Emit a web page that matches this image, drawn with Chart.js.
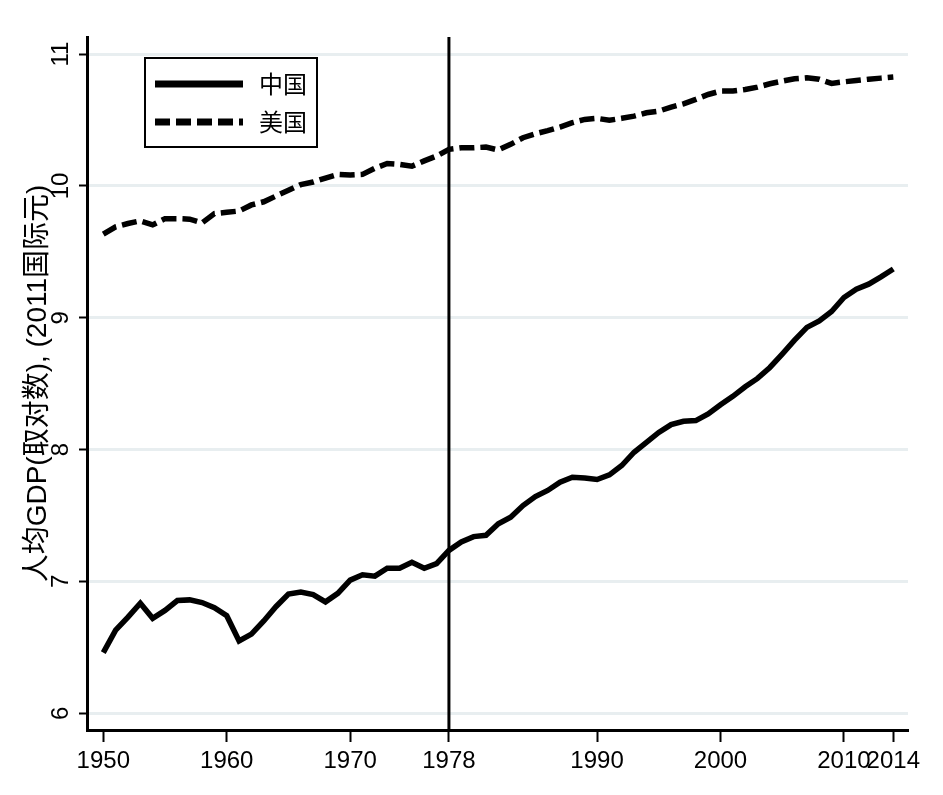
<!DOCTYPE html>
<html>
<head>
<meta charset="utf-8">
<script src="https://cdn.jsdelivr.net/npm/chart.js@4/dist/chart.umd.min.js"></script>
<style>
  body { margin: 0; background: #fff; }
  #wrap { width: 943px; height: 795px; }
</style>
</head>
<body>
<div id="wrap"><canvas id="gdp-chart"></canvas></div>
<script>
const years = [
  1950, 1951, 1952, 1953, 1954, 1955, 1956, 1957, 1958, 1959,
  1960, 1961, 1962, 1963, 1964, 1965, 1966, 1967, 1968, 1969,
  1970, 1971, 1972, 1973, 1974, 1975, 1976, 1977, 1978, 1979,
  1980, 1981, 1982, 1983, 1984, 1985, 1986, 1987, 1988, 1989,
  1990, 1991, 1992, 1993, 1994, 1995, 1996, 1997, 1998, 1999,
  2000, 2001, 2002, 2003, 2004, 2005, 2006, 2007, 2008, 2009,
  2010, 2011, 2012, 2013, 2014,
];

// log GDP per capita, 2011 international dollars
const china = [
  6.46, 6.63, 6.73, 6.835, 6.72, 6.78, 6.855, 6.86, 6.84, 6.80,
  6.74, 6.548, 6.60, 6.70, 6.81, 6.905, 6.92, 6.90, 6.845, 6.91,
  7.01, 7.05, 7.04, 7.10, 7.10, 7.145, 7.10, 7.135, 7.235, 7.30,
  7.34, 7.35, 7.437, 7.487, 7.576, 7.644, 7.69, 7.752, 7.79, 7.785,
  7.773, 7.808, 7.879, 7.98, 8.055, 8.13, 8.19, 8.215, 8.22, 8.27,
  8.34, 8.404, 8.477, 8.54, 8.623, 8.725, 8.83, 8.927, 8.977, 9.048,
  9.154, 9.217, 9.255, 9.31, 9.37,
];

const usa = [
  9.634, 9.69, 9.715, 9.735, 9.705, 9.752, 9.752, 9.748, 9.72, 9.79,
  9.80, 9.81, 9.856, 9.88, 9.924, 9.967, 10.01, 10.03, 10.06, 10.088,
  10.083, 10.088, 10.134, 10.17, 10.164, 10.15, 10.19, 10.227, 10.278, 10.29,
  10.29, 10.295, 10.273, 10.316, 10.366, 10.396, 10.42, 10.447, 10.48, 10.505,
  10.513, 10.498, 10.513, 10.53, 10.555, 10.568, 10.598, 10.623, 10.657, 10.694,
  10.72, 10.72, 10.732, 10.75, 10.775, 10.795, 10.813, 10.82, 10.81, 10.778,
  10.79, 10.80, 10.81, 10.818, 10.826,
];

const xTicks = [1950, 1960, 1970, 1978, 1990, 2000, 2010, 2014];
const yTicks = [6, 7, 8, 9, 10, 11];
const seriesNames = ["中国", "美国"];
const reformYear = 1978;

const tickFont = { family: "'Liberation Sans', Arial, sans-serif", size: 24 };
const cjkFont = "'Liberation Sans', 'Noto Sans CJK SC', sans-serif";

// vertical line at 1978 and boxed legend like the Stata original
const extras = {
  id: "extras",
  afterDatasetsDraw(chart) {
    const ctx = chart.ctx;
    const area = chart.chartArea;
    const x = chart.scales.x.getPixelForValue(reformYear);
    ctx.save();
    ctx.strokeStyle = "#000";
    ctx.lineWidth = 3;
    ctx.beginPath();
    ctx.moveTo(x, area.top);
    ctx.lineTo(x, area.bottom);
    ctx.stroke();

    const bx = area.left + 58;
    const by = area.top + 21;
    ctx.lineWidth = 2;
    ctx.strokeRect(bx, by, 172, 89);
    ctx.font = "24px 'Noto Sans CJK SC', sans-serif";
    ctx.fillStyle = "#000";
    ctx.textBaseline = "middle";
    chart.data.datasets.forEach((ds, i) => {
      const ly = by + 26 + i * 38;
      ctx.lineWidth = 7;
      ctx.setLineDash(ds.borderDash || []);
      ctx.beginPath();
      ctx.moveTo(bx + 10, ly);
      ctx.lineTo(bx + 98, ly);
      ctx.stroke();
      ctx.setLineDash([]);
      ctx.fillText(ds.label, bx + 114, ly);
    });
    ctx.restore();
  },
};

new Chart(document.getElementById("gdp-chart"), {
  type: "line",
  data: {
    datasets: [
      {
        label: seriesNames[0],
        data: years.map((y, i) => ({ x: y, y: china[i] })),
        borderColor: "#000",
        borderWidth: 5.5,
        pointRadius: 0,
        tension: 0,
        fill: false,
      },
      {
        label: seriesNames[1],
        data: years.map((y, i) => ({ x: y, y: usa[i] })),
        borderColor: "#000",
        borderWidth: 5.5,
        borderDash: [15, 6],
        pointRadius: 0,
        tension: 0,
        fill: false,
      },
    ],
  },
  options: {
    responsive: true,
    maintainAspectRatio: false,
    animation: false,
    layout: { padding: { top: 37, right: 35, left: 0, bottom: 0 } },
    plugins: {
      legend: { display: false },
      tooltip: { enabled: false },
    },
    scales: {
      x: {
        type: "linear",
        min: 1948.68,
        max: 2015.19,
        afterBuildTicks: (scale) => {
          scale.ticks = xTicks.map((v) => ({ value: v }));
        },
        afterFit: (scale) => {
          scale.height = 65;
        },
        grid: {
          drawOnChartArea: false,
          color: "#000",
          tickColor: "#000",
          tickLength: 12,
          tickWidth: 2,
        },
        border: { display: true, color: "#000", width: 3 },
        ticks: {
          autoSkip: false,
          maxRotation: 0,
          minRotation: 0,
          padding: 5,
          color: "#000",
          font: tickFont,
          callback: (v) => String(v),
        },
      },
      y: {
        type: "linear",
        min: 5.873,
        max: 11.13,
        afterBuildTicks: (scale) => {
          scale.ticks = yTicks.map((v) => ({ value: v }));
        },
        afterFit: (scale) => {
          scale.width = 87;
        },
        grid: {
          color: "#e8eef0",
          lineWidth: 3,
          tickColor: "#000",
          tickLength: 8,
          tickWidth: 2,
        },
        border: { display: true, color: "#000", width: 3 },
        ticks: {
          minRotation: 90,
          maxRotation: 90,
          crossAlign: "center",
          padding: 4,
          color: "#000",
          font: tickFont,
          callback: (v) => String(v),
        },
        title: {
          display: true,
          text: "人均GDP(取对数), (2011国际元)",
          color: "#000",
          font: { family: cjkFont, size: 28 },
          padding: { top: 21, bottom: 0 },
        },
      },
    },
  },
  plugins: [extras],
});
</script>
</body>
</html>
